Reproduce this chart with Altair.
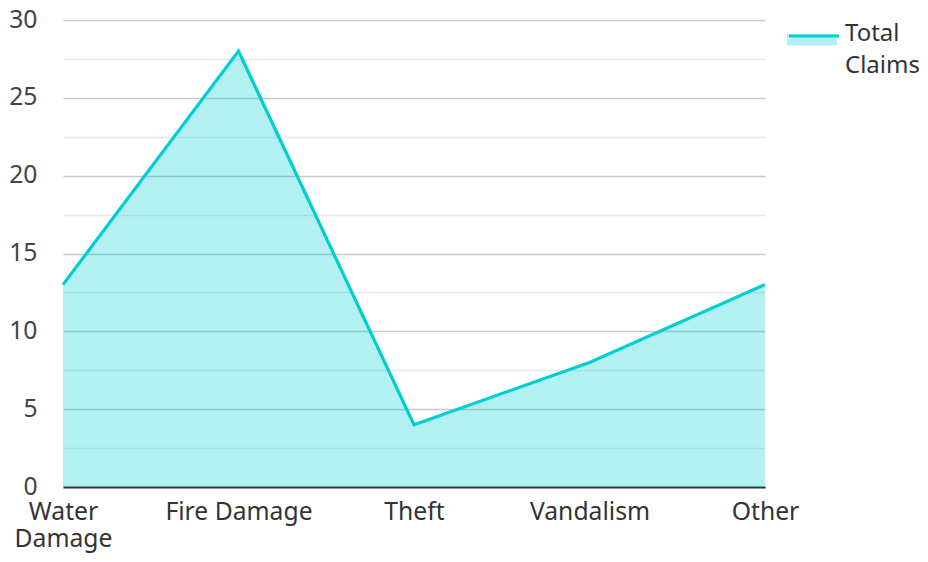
import altair as alt
import pandas as pd

categories = ["Water Damage", "Fire Damage", "Theft", "Vandalism", "Other"]
values = [13, 28, 4, 8, 13]
series_name = "Total Claims"
y_ticks = [0, 2.5, 5, 7.5, 10, 12.5, 15, 17.5, 20, 22.5, 25, 27.5, 30]

df = pd.DataFrame({"category": categories, "value": values, "series": series_name})

FONT = "Noto Sans"
TEAL = "#00CED1"
FS = 24.7
LFS = 24

x_enc = alt.X(
    "category:N",
    sort=categories,
    scale=alt.Scale(type="point", padding=0),
    title=None,
    axis=alt.Axis(
        labelAngle=0,
        labelExpr="datum.value == 'Water Damage' ? ['Water', 'Damage'] : datum.value",
        labelFontSize=FS,
        labelFont=FONT,
        labelColor="#333333",
        labelPadding=12,
        labelLineHeight=27,
        labelOverlap=False,
        labelLimit=0,
        ticks=False,
        grid=False,
        domainColor="#333333",
        domainWidth=2,
    ),
)

y_enc = alt.Y(
    "value:Q",
    scale=alt.Scale(domain=[0, 30], nice=False),
    title=None,
    axis=alt.Axis(
        values=y_ticks,
        labelExpr="datum.value % 5 === 0 ? datum.label : ''",
        labelFontSize=FS,
        labelFont=FONT,
        labelColor="#444444",
        labelPadding=26,
        ticks=False,
        domain=False,
        grid=True,
        gridColor={"condition": {"test": "datum.value % 5 === 0", "value": "#c8c8c8"}, "value": "#e8e8e8"},
        gridWidth=1.3,
    ),
)

area = alt.Chart(df).mark_area(fillOpacity=0.3, line=False).encode(
    x=x_enc,
    y=y_enc,
    fill=alt.Fill(
        "series:N",
        scale=alt.Scale(domain=[series_name], range=[TEAL]),
        legend=alt.Legend(
            title=None,
            orient="none",
            legendX=724,
            legendY=-11,
            symbolType="M-1,0 L1,0 L1,0.46 L-1,0.46 Z",
            symbolSize=2500,
            symbolOpacity=0.3,
            symbolStrokeWidth=0,
            labelExpr="['Total', 'Claims']",
            labelFontSize=LFS,
            labelFont=FONT,
            labelColor="#333333",
            labelOffset=8,
            labelLimit=0,
        ),
    ),
)

line = alt.Chart(df).mark_line(strokeWidth=3.2).encode(
    x=x_enc,
    y=y_enc,
    stroke=alt.Stroke(
        "series:N",
        scale=alt.Scale(domain=[series_name], range=[TEAL]),
        legend=alt.Legend(
            title=None,
            orient="none",
            legendX=724,
            legendY=-11,
            symbolType="stroke",
            symbolSize=2500,
            symbolStrokeWidth=3.2,
            labelExpr="['Total', 'Claims']",
            labelFontSize=LFS,
            labelFont=FONT,
            labelColor="#333333",
            labelOpacity=0,
            labelOffset=8,
            labelLimit=0,
        ),
    ),
)

chart = (
    alt.layer(area, line)
    .resolve_scale(fill="independent", stroke="independent")
    .properties(
        width=702,
        height=467,
        autosize=alt.AutoSizeParams(type="none"),
        padding={"left": 55, "top": 12, "right": 155, "bottom": 67},
    )
    .configure(style={"guide-label": {"lineHeight": 32}})
    .configure_view(stroke=None)
)

chart.save("out.html", embed_options={"renderer": "svg", "actions": False})
